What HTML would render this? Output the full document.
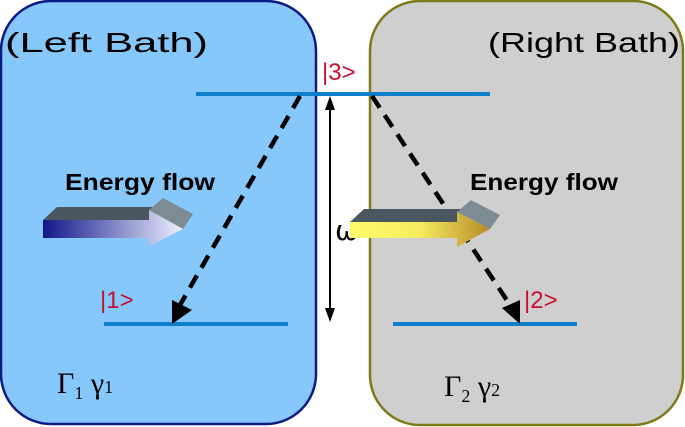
<!DOCTYPE html>
<html><head><style>body{margin:0;background:#fff}svg{display:block}</style></head><body>
<svg width="685" height="427" viewBox="0 0 685 427" xmlns="http://www.w3.org/2000/svg">
<defs>
<linearGradient id="lb" x1="0" x2="1"><stop offset="0" stop-color="#10188a"/><stop offset="1" stop-color="#eef0ff"/></linearGradient>
<linearGradient id="yb" x1="0" x2="1"><stop offset="0" stop-color="#fdfb6a"/><stop offset="0.5" stop-color="#f5ec60"/><stop offset="1" stop-color="#b88a2a"/></linearGradient>
</defs>
<rect x="1" y="1" width="315" height="423" rx="50" fill="#86c8fb" stroke="#0b1a85" stroke-width="2.5"/>
<rect x="370" y="1" width="313" height="424" rx="50" fill="#cfcfcf" stroke="#7f7a18" stroke-width="2.5"/>
<g font-family="Liberation Sans, sans-serif" font-size="28" fill="#000">
<text x="5" y="52" textLength="203" lengthAdjust="spacingAndGlyphs">(Left Bath)</text>
<text x="488" y="52" textLength="192" lengthAdjust="spacingAndGlyphs">(Right Bath)</text>
</g>
<g font-family="Liberation Sans, sans-serif" font-size="24" fill="#c8102e">
<text x="322" y="80">|3&gt;</text>
<text x="100" y="308">|1&gt;</text>
<text x="524" y="308">|2&gt;</text>
</g>
<g stroke="#0d7fcc" stroke-width="4">
<line x1="196" y1="94" x2="490" y2="94"/>
<line x1="104" y1="324" x2="288" y2="324"/>
<line x1="393" y1="324" x2="577" y2="324"/>
</g>
<line x1="330" y1="106" x2="330" y2="312" stroke="#000" stroke-width="2"/>
<path d="M330,96 L325,110 L335,110 z M330,322 L325,308 L335,308 z" fill="#000"/>
<text x="335" y="240" font-family="DejaVu Sans, sans-serif" font-size="28">ω</text>
<g stroke="#000" stroke-width="4.5" stroke-dasharray="14,9" fill="none">
<line x1="300" y1="96" x2="180" y2="305"/>
<line x1="372" y1="96" x2="510" y2="305"/>
</g>
<path d="M172,324 L172,300 L192,310 z" fill="#000"/>
<path d="M520,324 L502,308 L520,300 z" fill="#000"/>
<g>
<path d="M43,220 L57,207 L164,207 L150,220 z" fill="#4a5660"/>
<path d="M149,210 L163,198 L193,214 L183,229 z" fill="#7e8b92"/>
<path d="M43,220 L149,220 L149,210 L183,229 L149,246 L149,238 L43,238 z" fill="url(#lb)"/>
</g>
<text x="65" y="190" font-family="Liberation Sans, sans-serif" font-weight="bold" font-size="23" textLength="150" lengthAdjust="spacingAndGlyphs">Energy flow</text>
<g>
<path d="M350,222 L364,209 L472,209 L458,222 z" fill="#4a5660"/>
<path d="M457,212 L471,200 L500,215 L490,229 z" fill="#7e8b92"/>
<path d="M350,222 L457,222 L457,212 L490,229 L457,247 L457,238 L350,238 z" fill="url(#yb)"/>
</g>
<text x="470" y="190" font-family="Liberation Sans, sans-serif" font-weight="bold" font-size="23" textLength="148" lengthAdjust="spacingAndGlyphs">Energy flow</text>
<g font-family="Liberation Serif, serif" font-size="30" fill="#000">
<text x="57" y="393">Γ<tspan font-size="18" dy="6">1</tspan><tspan dy="-6"> γ</tspan><tspan font-size="18" dy="0">1</tspan></text>
<text x="444" y="396">Γ<tspan font-size="18" dy="6">2</tspan><tspan dy="-6"> γ</tspan><tspan font-size="18" dy="0">2</tspan></text>
</g>
</svg>
</body></html>
